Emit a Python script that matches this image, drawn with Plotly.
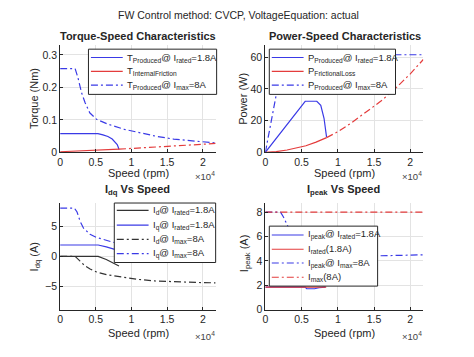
import plotly.graph_objects as go

# ---------------- data ----------------
x_tick_vals = [0, 5000, 10000, 15000, 20000]
x_tick_text = ["0", "0.5", "1", "1.5", "2"]
speed_range = [0, 21800]

# Torque-Speed
spd_T_rated = [0, 5300, 6000, 6700, 7300, 7700, 8000, 8150, 8250]
T_rated = [0.058, 0.058, 0.054, 0.049, 0.041, 0.033, 0.024, 0.016, 0.009]
spd_T_fric = [0, 2000, 4000, 6000, 8250]
T_fric = [0.002, 0.004, 0.006, 0.008, 0.010]
spd_T_fric_ext = [8250, 10000, 12000, 14000, 16000, 18000, 20000, 21800]
T_fric_ext = [0.010, 0.012, 0.0145, 0.017, 0.0195, 0.022, 0.025, 0.028]
spd_T_max = [0, 2100, 2500, 3000, 3500, 4150, 5100, 6700, 9000, 11300, 13600, 15900, 18200, 20500, 21800]
T_max = [0.258, 0.258, 0.230, 0.184, 0.153, 0.122, 0.102, 0.087, 0.071, 0.059, 0.049, 0.041, 0.036, 0.031, 0.029]

# Power-Speed
spd_P_rated = [0, 5500, 7100, 7650, 8100, 8350, 8450]
P_rated = [0, 32.2, 32.2, 29.7, 21.5, 14.4, 9.6]
spd_P_fric = [0, 1500, 3000, 4500, 5600, 7000, 8450]
P_fric = [0, 0.5, 1.5, 3.0, 4.2, 6.5, 9.3]
spd_P_fric_ext = [8450, 10000, 12000, 14000, 16000, 18000, 20000, 21800]
P_fric_ext = [9.3, 13.0, 19.0, 25.5, 32.5, 40.5, 49.5, 58.5]
spd_P_max = [0, 1500, 2550, 21800]
P_max = [0, 36.0, 61.5, 61.5]

# Idq vs Speed
spd_Id_rated = [0, 5330, 6470, 7380, 8060, 8250]
Id_rated = [0, 0, -0.53, -1.05, -1.47, -1.6]
spd_Iq_rated = [0, 5330, 6470, 7380, 8250]
Iq_rated = [1.9, 1.9, 1.58, 1.32, 0.95]
spd_Id_max = [0, 2100, 2800, 3500, 4200, 5100, 6500, 8700, 11000, 13300, 16000, 19000, 21800]
Id_max = [0, 0, -0.8, -1.6, -2.1, -2.6, -3.05, -3.5, -3.85, -4.1, -4.25, -4.35, -4.42]
spd_Iq_max = [0, 2000, 2370, 2820, 3280, 4190, 5100, 6470, 7380, 10000, 14000, 18000, 21800]
Iq_max = [8.05, 8.05, 7.4, 5.8, 4.7, 3.7, 3.16, 2.63, 2.37, 1.85, 1.4, 1.1, 0.95]

# Ipeak vs Speed
spd_Ipk_rated = [0, 5500, 5700, 6800, 7400, 8300]
Ipk_rated = [1.85, 1.85, 1.72, 1.72, 1.8, 1.86]
spd_I_rated = [0, 8400]
I_rated = [1.85, 1.85]
spd_Ipk_max = [0, 2100, 2500, 3100, 4000, 5000, 6500, 8700, 11000, 13300, 15600, 18000, 21800]
Ipk_max = [8, 8, 7.6, 6.85, 5.9, 5.3, 4.9, 4.7, 4.55, 4.45, 4.42, 4.45, 4.5]
spd_I_max = [0, 21800]
I_max = [8, 8]

# legend labels
leg_T = ["T<sub>Produced</sub>@ I<sub>rated</sub>=1.8A", "T<sub>InternalFriction</sub>",
         "T<sub>Produced</sub>@ I<sub>max</sub>=8A"]
leg_P = ["P<sub>Produced</sub>@ I<sub>rated</sub>=1.8A", "P<sub>FrictionalLoss</sub>",
         "P<sub>Produced</sub>@ I<sub>max</sub>=8A"]
leg_I = ["I<sub>d</sub>@ I<sub>rated</sub>=1.8A", "I<sub>q</sub>@ I<sub>rated</sub>=1.8A",
         "I<sub>d</sub>@ I<sub>max</sub>=8A", "I<sub>q</sub>@ I<sub>max</sub>=8A"]
leg_K = ["I<sub>peak</sub>@ I<sub>rated</sub>=1.8A", "I<sub>rated</sub>(1.8A)",
         "I<sub>peak</sub>@ I<sub>max</sub>=8A", "I<sub>max</sub>(8A)"]

# ---------------- style ----------------
W, H = 474, 357
BLUE = "#3a3ae6"
RED = "#e43c3c"
BLACK = "#333333"
AX = "#262626"
GRID = "#e3e3e3"
FONT = "Liberation Sans, Arial, sans-serif"
DD = "7px,3px,2px,3px"
LW = 1.2


def px(x):
    return x / W


def py(y):
    return 1 - y / H


fig = go.Figure()


def add(x, y, color, dash, name, xa, ya):
    fig.add_trace(go.Scatter(
        x=x, y=y, mode="lines", name=name,
        line=dict(color=color, width=LW, dash=dash),
        xaxis=xa, yaxis=ya, showlegend=False, hoverinfo="skip"))


# Torque
add(spd_T_rated, T_rated, BLUE, "solid", leg_T[0], "x", "y")
add(spd_T_fric, T_fric, RED, "solid", leg_T[1], "x", "y")
add(spd_T_max, T_max, BLUE, DD, leg_T[2], "x", "y")
add(spd_T_fric_ext, T_fric_ext, RED, DD, "friction ext", "x", "y")

# Power
add(spd_P_rated, P_rated, BLUE, "solid", leg_P[0], "x2", "y2")
add(spd_P_fric, P_fric, RED, "solid", leg_P[1], "x2", "y2")
add(spd_P_max, P_max, BLUE, DD, leg_P[2], "x2", "y2")
add(spd_P_fric_ext, P_fric_ext, RED, DD, "friction ext", "x2", "y2")

# Idq
add(spd_Id_rated, Id_rated, BLACK, "solid", leg_I[0], "x3", "y3")
add(spd_Iq_rated, Iq_rated, BLUE, "solid", leg_I[1], "x3", "y3")
add(spd_Id_max, Id_max, BLACK, DD, leg_I[2], "x3", "y3")
add(spd_Iq_max, Iq_max, BLUE, DD, leg_I[3], "x3", "y3")

# Ipeak
add(spd_Ipk_rated, Ipk_rated, BLUE, "solid", leg_K[0], "x4", "y4")
add(spd_I_rated, I_rated, RED, "solid", leg_K[1], "x4", "y4")
add(spd_Ipk_max, Ipk_max, BLUE, DD, leg_K[2], "x4", "y4")
add(spd_I_max, I_max, RED, DD, leg_K[3], "x4", "y4")

# axes domains (pixels in the window)
xdom_L = [px(57.5), px(214)]
xdom_R = [px(264), px(423)]
ydom_T = [py(155), py(46)]
ydom_B = [py(315), py(206.5)]


def xax(dom, anchor):
    return dict(domain=dom, anchor=anchor, range=speed_range,
                tickvals=x_tick_vals, ticktext=x_tick_text,
                showgrid=True, gridcolor=GRID, gridwidth=1,
                showline=True, linecolor=AX, linewidth=1,
                ticks="inside", ticklen=3, tickcolor=AX,
                tickfont=dict(size=10.5, color=AX, family=FONT),
                zeroline=False, fixedrange=True)


def yax(dom, anchor, rng, tv):
    return dict(domain=dom, anchor=anchor, range=rng, tickvals=tv,
                showgrid=True, gridcolor=GRID, gridwidth=1,
                showline=True, linecolor=AX, linewidth=1,
                ticks="inside", ticklen=3, tickcolor=AX,
                tickfont=dict(size=10.5, color=AX, family=FONT),
                zeroline=False, fixedrange=True)


fig.update_layout(
    width=W, height=H,
    margin=dict(l=0, r=0, t=0, b=0),
    paper_bgcolor="white", plot_bgcolor="white",
    font=dict(family=FONT, color=AX),
    showlegend=False,
    xaxis=xax(xdom_L, "y"), yaxis=yax(ydom_T, "x", [0, 0.33], [0, 0.1, 0.2, 0.3]),
    xaxis2=xax(xdom_R, "y2"), yaxis2=yax(ydom_T, "x2", [0, 67.5], [0, 20, 40, 60]),
    xaxis3=xax(xdom_L, "y3"), yaxis3=yax(ydom_B, "x3", [-8.9, 8.9], [-5, 0, 5]),
    xaxis4=xax(xdom_R, "y4"), yaxis4=yax(ydom_B, "x4", [0, 8.75], [0, 2, 4, 6, 8]),
)

ann = []
shapes = []


def text(x, y, s, size=11, bold=False, angle=0, xanchor="center", color=AX):
    ann.append(dict(x=px(x), y=py(y), xref="paper", yref="paper",
                    text=("<b>%s</b>" % s) if bold else s,
                    showarrow=False, xanchor=xanchor, yanchor="middle", textangle=angle,
                    font=dict(size=size, color=color, family=FONT)))


def legend_box(x0, y0, x1, y1, rows, labels, styles, lx0, lx1, tx):
    shapes.append(dict(type="rect", xref="paper", yref="paper",
                       x0=px(x0), x1=px(x1), y0=py(y1), y1=py(y0),
                       fillcolor="white", line=dict(color=AX, width=1), layer="above"))
    for ry, lab, (col, dash) in zip(rows, labels, styles):
        shapes.append(dict(type="line", xref="paper", yref="paper",
                           x0=px(lx0), x1=px(lx1), y0=py(ry), y1=py(ry),
                           line=dict(color=col, width=LW, dash=dash), layer="above"))
        ann.append(dict(x=px(tx), y=py(ry), xref="paper", yref="paper", text=lab,
                        showarrow=False, xanchor="left", yanchor="middle",
                        font=dict(size=9.5, color=AX, family=FONT)))


legend_box(86, 50, 215, 96, [58.5, 72.5, 86.5], leg_T,
           [(BLUE, "solid"), (RED, "solid"), (BLUE, DD)], 88.5, 120.5, 122.5)
legend_box(268, 50, 395, 96, [58.5, 72.5, 86.5], leg_P,
           [(BLUE, "solid"), (RED, "solid"), (BLUE, DD)], 270.5, 302.5, 304.5)
legend_box(112, 206.5, 214, 267, [214, 229, 243.5, 258], leg_I,
           [(BLACK, "solid"), (BLUE, "solid"), (BLACK, DD), (BLUE, DD)], 114.5, 146.5, 148.5)
legend_box(268, 230, 377, 291, [239, 253.5, 267.5, 282], leg_K,
           [(BLUE, "solid"), (RED, "solid"), (BLUE, DD), (RED, DD)], 270.5, 302.5, 304.5)

text(237, 15, "FW Control method: CVCP, VoltageEquation: actual", size=10.5)
text(136, 37, "Torque-Speed Characteristics", size=11, bold=True)
text(344, 37, "Power-Speed Characteristics", size=11, bold=True)
text(135, 193, "I<sub>dq</sub> Vs Speed", size=11, bold=True)
text(343, 193, "I<sub>peak</sub> Vs Speed", size=11, bold=True)

text(32, 100, "Torque (Nm)", angle=-90)
text(242, 100, "Power (W)", angle=-90)
text(32, 261, "I<sub>dq</sub> (A)", angle=-90)
text(243, 258, "I<sub>peak</sub> (A)", angle=-90)

for cx, cy in [(136, 176), (344, 176), (136, 338.5), (344, 338.5)]:
    text(cx, cy, "Speed (rpm)")
for rx, ry in [(215, 179), (424, 179), (215, 342), (424, 342)]:
    text(rx, ry, "\u00d710<sup>4</sup>", size=9.5, xanchor="right", color="#444444")

fig.update_layout(annotations=ann, shapes=shapes)

fig.write_html("out.html", config={"displayModeBar": False},
               post_script="document.body.style.margin='0';document.body.style.overflow='hidden';")
